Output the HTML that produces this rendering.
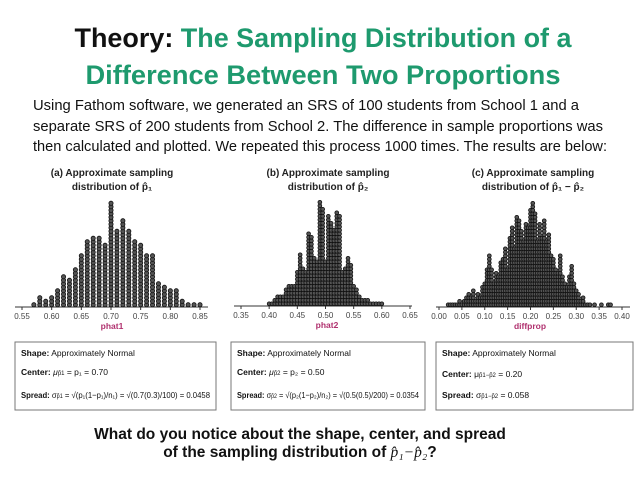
<!DOCTYPE html>
<html><head><meta charset="utf-8">
<style>
body{margin:0;width:638px;height:478px;background:#fff;overflow:hidden;font-family:"Liberation Sans",sans-serif;}
svg{display:block}
</style></head>
<body>
<svg id="page" width="638" height="478">
<text x="323" y="47" text-anchor="middle" font-size="26.5" font-weight="bold" textLength="497" lengthAdjust="spacingAndGlyphs"><tspan fill="#111">Theory: </tspan><tspan fill="#1e9a6e">The Sampling Distribution of a</tspan></text>
<text x="323" y="84" text-anchor="middle" font-size="26.5" font-weight="bold" fill="#1e9a6e" textLength="475" lengthAdjust="spacingAndGlyphs">Difference Between Two Proportions</text>
<g font-size="15" fill="#111">
<text x="33" y="110" textLength="546" lengthAdjust="spacingAndGlyphs">Using Fathom software, we generated an SRS of 100 students from School 1 and a</text>
<text x="33" y="131" textLength="570" lengthAdjust="spacingAndGlyphs">separate SRS of 200 students from School 2. The difference in sample proportions was</text>
<text x="33" y="151" textLength="574" lengthAdjust="spacingAndGlyphs">then calculated and plotted.  We repeated this process 1000 times.  The results are below:</text>
</g>
<g font-size="10" font-weight="bold" fill="#222" text-anchor="middle">
<text x="112" y="176">(a) Approximate sampling</text><text x="112" y="190">distribution of p̂₁</text>
<text x="328" y="176">(b) Approximate sampling</text><text x="328" y="190">distribution of p̂₂</text>
<text x="533" y="176">(c) Approximate sampling</text><text x="533" y="190">distribution of p̂₁ − p̂₂</text>
</g>
<g id="charts"></g>
<g font-size="8.5" fill="#111">
<rect x="15" y="342" width="201" height="68" fill="none" stroke="#777"/>
<text x="21" y="356"><tspan font-weight="bold">Shape:</tspan> Approximately Normal</text>
<text x="21" y="375"><tspan font-weight="bold">Center:</tspan> <tspan font-style="italic">  μ</tspan><tspan font-size="6">p̂1</tspan> = p₁ = 0.70</text>
<text x="21" y="398" textLength="189" lengthAdjust="spacingAndGlyphs"><tspan font-weight="bold">Spread:</tspan> σ<tspan font-size="6">p̂1</tspan> = √(p₁(1−p₁)/n₁) = √(0.7(0.3)/100) = 0.0458</text>
<rect x="231" y="342" width="194" height="68" fill="none" stroke="#777"/>
<text x="237" y="356"><tspan font-weight="bold">Shape:</tspan> Approximately Normal</text>
<text x="237" y="375"><tspan font-weight="bold">Center:</tspan> <tspan font-style="italic">  μ</tspan><tspan font-size="6">p̂2</tspan> = p₂ = 0.50</text>
<text x="237" y="398" textLength="182" lengthAdjust="spacingAndGlyphs"><tspan font-weight="bold">Spread:</tspan> σ<tspan font-size="6">p̂2</tspan> = √(p₂(1−p₂)/n₂) = √(0.5(0.5)/200) = 0.0354</text>
<rect x="436" y="342" width="197" height="68" fill="none" stroke="#777"/>
<text x="442" y="356"><tspan font-weight="bold">Shape:</tspan> Approximately Normal</text>
<text x="442" y="377"><tspan font-weight="bold">Center:</tspan>   μ<tspan font-size="6">p̂1−p̂2</tspan> = 0.20</text>
<text x="442" y="398"><tspan font-weight="bold">Spread:</tspan>   σ<tspan font-size="6">p̂1−p̂2</tspan> = 0.058</text>
</g>
<g font-size="15.5" font-weight="bold" fill="#111" text-anchor="middle">
<text x="300" y="439">What do you notice about the shape, center, and spread</text>
<text x="300" y="457">of the sampling distribution of <tspan font-family="Liberation Serif" font-style="italic" font-weight="normal">p̂₁−p̂₂</tspan>?</text>
</g>
</svg>
<script>
const catsA = [0.57,0.58,0.59,0.60,0.61,0.62,0.63,0.64,0.65,0.66,0.67,0.68,0.69,0.70,0.71,0.72,0.73,0.74,0.75,0.76,0.77,0.78,0.79,0.80,0.81,0.82,0.83,0.84,0.85];
const countsA = [1,3,2,3,5,9,8,11,15,19,20,20,18,30,22,25,22,19,18,15,15,7,6,5,5,2,1,1,1];
const ticksA = ["0.55","0.60","0.65","0.70","0.75","0.80","0.85"];
const startB = 0.40;
const countsB = [1,1,2,3,3,3,5,6,6,6,10,15,11,10,21,20,14,13,30,28,13,26,24,22,27,26,10,11,14,12,6,5,3,2,2,2,1,1,1,1,1,0];
const ticksB = ["0.35","0.40","0.45","0.50","0.55","0.60","0.65"];
const startC = 0.02;
const countsC = [1,1,1,1,1,2,1,2,3,4,3,5,2,4,3,6,7,11,15,11,7,10,9,13,14,17,11,20,23,17,26,25,22,19,24,23,28,30,27,19,24,20,25,19,21,15,14,11,10,15,9,7,6,9,12,7,5,4,2,3,1,1,1,0,1,0,0,1,0,0,1,1];
const ticksC = ["0.00","0.05","0.10","0.15","0.20","0.25","0.30","0.35","0.40"];
const NS="http://www.w3.org/2000/svg";
const root=document.getElementById('charts');
function mk(t,a,p){const e=document.createElementNS(NS,t);for(const k in a)e.setAttribute(k,a[k]);(p||root).appendChild(e);return e;}
function chart(name,x0,v0,x1,v1,axL,axR,base,cats,counts,ticks,label,lx,r){
  const g=mk('g',{});
  
  
  const sx=v=>x0+(v-v0)*(x1-x0)/(v1-v0);
  const ax=mk('line',{x1:axL,x2:axR,y1:base,y2:base,stroke:'#333','stroke-width':1},g);
  
  
  ticks.forEach(t=>{const x=sx(parseFloat(t));
    mk('line',{x1:x,x2:x,y1:base,y2:base+3,stroke:'#333'},g);
    const tx=mk('text',{x:x,y:base+12,'font-size':8,fill:'#444','text-anchor':'middle'},g);tx.textContent=t;
    
    });
  const lb=mk('text',{x:lx,y:base+22,'font-size':8.5,'font-weight':'bold',fill:'#b0306e','text-anchor':'middle'},g);lb.textContent=label;
  
  
  const step=3.5;
  counts.forEach((c,i)=>{const x=sx(cats[i]);
    for(let k=0;k<c;k++){const d=mk('circle',{cx:x,cy:base-2.2-k*step,r:r,fill:'#555',stroke:'#111','stroke-width':0.8},g);
      
      }});
}
chart('dotplot-phat1',22,0.55,200,0.85,15,208,307,catsA,countsA,ticksA,'phat1',112,2.1);
const catsB=countsB.map((_,i)=>startB+i*0.005);
chart('dotplot-phat2',241,0.35,410,0.65,234,412,306,catsB,countsB,ticksB,'phat2',327,1.9);
const catsC=countsC.map((_,i)=>startC+i*0.005);
chart('dotplot-diffprop',439,0.00,622,0.40,436,630,307,catsC,countsC,ticksC,'diffprop',530,1.9);
</script>
</body></html>
